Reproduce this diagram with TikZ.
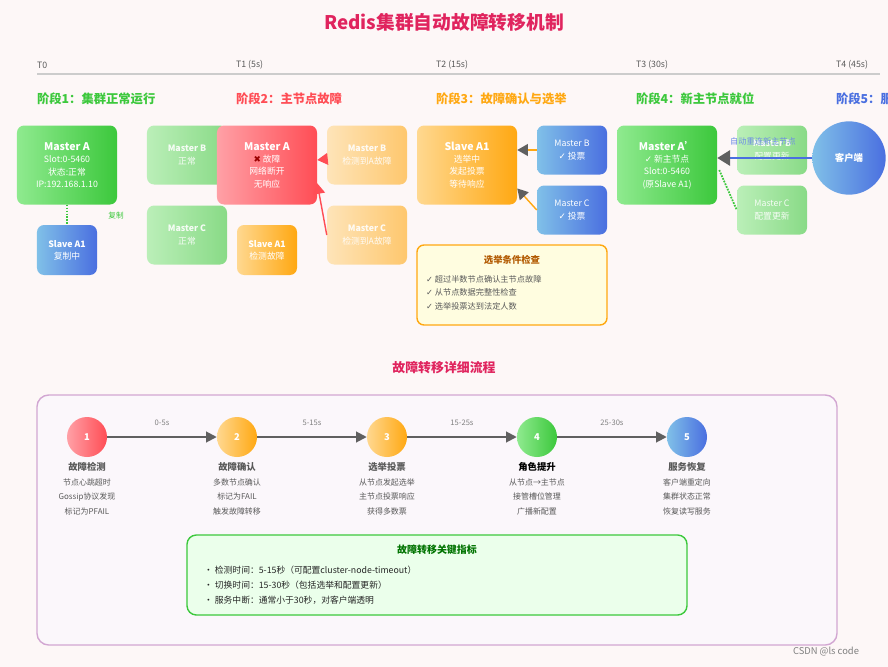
\documentclass[tikz,border=0pt]{standalone}
\usepackage{fontspec}
\setmainfont{Noto Sans CJK SC}
\newfontfamily\symf{DejaVu Sans}
\usepackage{tikz}
\usetikzlibrary{shapes,arrows.meta,positioning,calc}

\definecolor{titlered}{HTML}{E0245E}
\definecolor{okgreen}{HTML}{3CC83C}
\definecolor{okgreenl}{HTML}{8FEA8F}
\definecolor{badred}{HTML}{FF4D55}
\definecolor{badredl}{HTML}{FFA0A6}
\definecolor{warnorange}{HTML}{FFA812}
\definecolor{warnorangel}{HTML}{FFD890}
\definecolor{infoblue}{HTML}{4A6FE0}
\definecolor{infobluel}{HTML}{80C0E8}
\definecolor{bgpink}{HTML}{FDF7F7}

\newcommand{\ok}{{\symf ✓}}

\begin{document}
\begin{tikzpicture}[
    x=0.03cm, y=-0.03cm,
    box/.style={rectangle, rounded corners=6pt, align=center, text=white, font=\fontsize{7.5}{10.5}\selectfont},
    greenbox/.style={box, left color=okgreenl, right color=okgreen},
    redbox/.style={box, left color=badredl, right color=badred},
    orangebox/.style={box, left color=warnorangel, right color=warnorange},
    bluebox/.style={box, left color=infobluel, right color=infoblue},
    faded/.style={opacity=0.6, text opacity=0.9},
    stepnode/.style={circle, minimum size=1.2cm, text=white, font=\bfseries\fontsize{8}{9}\selectfont},
    steptext/.style={align=center, text=gray!70!black, font=\fontsize{6.8}{12.4}\selectfont, anchor=north},
    phase/.style={anchor=west, font=\bfseries\fontsize{10.5}{12}\selectfont},
    tick/.style={anchor=west, text=gray!70!black, font=\fontsize{7.5}{9}\selectfont},
    flow/.style={-{Triangle[length=9pt,width=9pt]}, line width=1.6pt, draw=gray!75!black},
    arrow/.style={-{Triangle[length=9pt,width=10pt]}, line width=1.2pt}
]
    % background
    \fill[bgpink] (0,0) rectangle (888,667);
    \useasboundingbox (0,0) rectangle (888,667);

    \node[text=titlered, font=\bfseries\fontsize{16}{18}\selectfont] (title) at (444,22) {Redis集群自动故障转移机制};

    % timeline
    \draw[gray!40, line width=1pt] (37,74) -- (880,74);
    \node[tick] (t0) at (33,65) {T0};
    \node[tick] (t1) at (232,65) {T1 (5s)};
    \node[tick] (t2) at (432,65) {T2 (15s)};
    \node[tick] (t3) at (632,65) {T3 (30s)};
    \node[tick] (t4) at (832,65) {T4 (45s)};

    \node[phase, text=okgreen] (p1) at (33,99) {阶段1：集群正常运行};
    \node[phase, text=badred] (p2) at (232,99) {阶段2：主节点故障};
    \node[phase, text=warnorange] (p3) at (432,99) {阶段3：故障确认与选举};
    \node[phase, text=okgreen] (p4) at (632,99) {阶段4：新主节点就位};
    \node[phase, text=infoblue] (p5) at (832,99) {阶段5：服务恢复};

    % stage 1
    \node[greenbox, minimum width=3cm, minimum height=2.37cm] (ma) at (67,165) {\textbf{\fontsize{9}{10}\selectfont Master A}\\Slot:0-5460\\状态:正常\\IP:192.168.1.10};
    \node[bluebox, minimum width=1.8cm, minimum height=1.5cm] (sa) at (67,250) {\textbf{Slave A1}\\复制中};
    \draw[okgreen, densely dotted, line width=1.5pt] (ma) -- (sa);
    \node[text=okgreen, font=\fontsize{6.5}{8}\selectfont] (repl) at (116,216) {复制};

    % stage 2
    \node[greenbox, faded, minimum width=2.4cm, minimum height=1.77cm] (mb2) at (187,155) {\textbf{Master B}\\正常};
    \node[greenbox, faded, minimum width=2.4cm, minimum height=1.77cm] (mc2) at (187,235) {\textbf{Master C}\\正常};
    \node[redbox, minimum width=3cm, minimum height=2.37cm] (fa) at (267,165) {\textbf{\fontsize{9}{10}\selectfont Master A}\\{\symf\color{red!60!black}✖} 故障\\网络断开\\无响应};
    \node[orangebox, minimum width=1.8cm, minimum height=1.5cm] (sa2) at (267,250) {\textbf{Slave A1}\\检测故障};
    \node[orangebox, faded, minimum width=2.4cm, minimum height=1.77cm] (mb3) at (367,155) {\textbf{Master B}\\检测到A故障};
    \node[orangebox, faded, minimum width=2.4cm, minimum height=1.77cm] (mc3) at (367,235) {\textbf{Master C}\\检测到A故障};
    \draw[arrow, badred] (mb3) -- (fa);
    \draw[arrow, badred] (mc3.west) -- (fa.-20);

    % stage 3
    \node[orangebox, minimum width=3cm, minimum height=2.37cm] (se) at (467,165) {\textbf{\fontsize{9}{10}\selectfont Slave A1}\\选举中\\发起投票\\等待响应};
    \node[bluebox, minimum width=2.1cm, minimum height=1.47cm] (mb4) at (572,150) {Master B\\\ok{} 投票};
    \node[bluebox, minimum width=2.1cm, minimum height=1.47cm] (mc4) at (572,210) {Master C\\\ok{} 投票};
    \draw[arrow, warnorange, -{Triangle[length=9pt,width=10pt,fill=gray!75!black,color=gray!75!black]}] (mb4.west) -- (se.east |- mb4.west);
    \draw[arrow, warnorange, -{Triangle[length=9pt,width=10pt,fill=gray!75!black,color=gray!75!black]}] (mc4.west) -- (se.-25);
    \node[draw=warnorange, line width=1.2pt, fill=yellow!12, rounded corners=6pt, minimum width=5.7cm, minimum height=2.4cm] (chk) at (512,285) {};
    \node[text=orange!70!black, font=\bfseries\fontsize{8}{10}\selectfont] (chkt) at (512,260) {选举条件检查};
    \node[anchor=north west, align=left, text=gray!70!black, font=\fontsize{7}{11.5}\selectfont] (chkl) at (422,271) {\ok{} 超过半数节点确认主节点故障\\\ok{} 从节点数据完整性检查\\\ok{} 选举投票达到法定人数};

    % stage 4
    \node[greenbox, minimum width=3cm, minimum height=2.37cm] (na) at (667,165) {\textbf{\fontsize{9}{10}\selectfont Master A'}\\\ok{} 新主节点\\Slot:0-5460\\(原Slave A1)};
    \node[greenbox, faded, minimum width=2.1cm, minimum height=1.47cm] (mb5) at (772,150) {\textbf{Master B}\\配置更新};
    \node[greenbox, faded, minimum width=2.1cm, minimum height=1.47cm] (mc5) at (772,210) {Master C\\配置更新};
    \draw[okgreen, densely dotted, line width=1.5pt] (na.east) ++(2,5) coordinate (nadot) -- (mc5.west);
    \node[circle, left color=infobluel, right color=infoblue, minimum size=2.2cm, text=white, font=\bfseries\fontsize{8}{10}\selectfont] (cli) at (849,158) {客户端};
    \draw[line width=2.2pt, infoblue, -{Triangle[length=11pt,width=13pt,fill=gray!75!black,color=gray!75!black]}] (cli.west) -- (na.east |- cli.west);
    \node[text=infoblue!80, font=\fontsize{7}{8}\selectfont] (recon) at (763,141) {自动重连新主节点};

    % detailed flow
    \node[text=titlered, font=\bfseries\fontsize{11}{13}\selectfont] (title2) at (444,368) {故障转移详细流程};
    \node[draw=violet!35, line width=1.2pt, fill=violet!3, rounded corners=10pt, minimum width=24cm, minimum height=7.5cm] (panel) at (437,520) {};

    \node[stepnode, left color=badredl, right color=badred] (s1) at (87,437) {1};
    \node[stepnode, left color=warnorangel, right color=warnorange] (s2) at (237,437) {2};
    \node[stepnode, left color=warnorangel, right color=warnorange] (s3) at (387,437) {3};
    \node[stepnode, left color=okgreenl, right color=okgreen] (s4) at (537,437) {4};
    \node[stepnode, left color=infobluel, right color=infoblue] (s5) at (687,437) {5};

    \draw[flow] (s1) -- (s2) node[midway, above=6pt, text=gray, font=\fontsize{6.5}{8}\selectfont] {0-5s};
    \draw[flow] (s2) -- (s3) node[midway, above=6pt, text=gray, font=\fontsize{6.5}{8}\selectfont] {5-15s};
    \draw[flow] (s3) -- (s4) node[midway, above=6pt, text=gray, font=\fontsize{6.5}{8}\selectfont] {15-25s};
    \draw[flow] (s4) -- (s5) node[midway, above=6pt, text=gray, font=\fontsize{6.5}{8}\selectfont] {25-30s};

    \node[steptext, below=1pt of s1] (d1) {{\bfseries\fontsize{8}{10}\selectfont 故障检测}\\节点心跳超时\\Gossip协议发现\\标记为PFAIL};
    \node[steptext, below=1pt of s2] (d2) {{\bfseries\fontsize{8}{10}\selectfont 故障确认}\\多数节点确认\\标记为FAIL\\触发故障转移};
    \node[steptext, below=1pt of s3] (d3) {{\bfseries\fontsize{8}{10}\selectfont 选举投票}\\从节点发起选举\\主节点投票响应\\获得多数票};
    \node[steptext, below=1pt of s4] (d4) {{\bfseries\fontsize{8}{10}\selectfont\color{black} 角色提升}\\从节点→主节点\\接管槽位管理\\广播新配置};
    \node[steptext, below=1pt of s5] (d5) {{\bfseries\fontsize{8}{10}\selectfont 服务恢复}\\客户端重定向\\集群状态正常\\恢复读写服务};

    % key metrics
    \node[draw=okgreen, line width=1.2pt, fill=green!8, rounded corners=8pt, minimum width=15cm, minimum height=2.4cm] (kpi) at (437,575) {};
    \node[text=green!45!black, font=\bfseries\fontsize{8.5}{10}\selectfont] (kpit) at (437,550) {故障转移关键指标};
    \node[anchor=north west, align=left, text=gray!30!black, font=\fontsize{7.5}{12.6}\selectfont] (kpil) at (200,562) {• 检测时间：5-15秒（可配置cluster-node-timeout）\\• 切换时间：15-30秒（包括选举和配置更新）\\• 服务中断：通常小于30秒，对客户端透明};

    \node[text=gray, font=\fontsize{8}{10}\selectfont] (mark) at (826,652) {CSDN @ls code};
\end{tikzpicture}
\end{document}
